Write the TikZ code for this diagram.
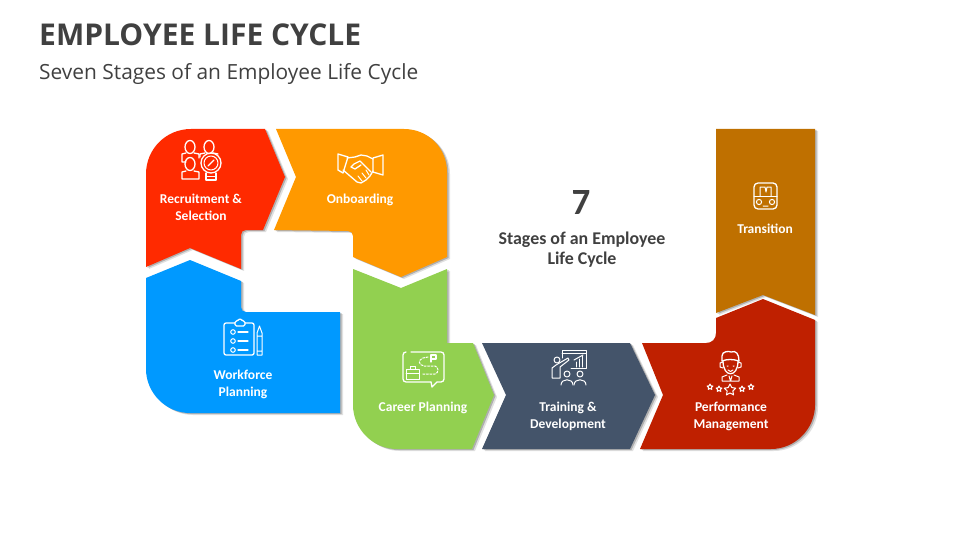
\documentclass[tikz,border=0pt]{standalone}
\usepackage{fontspec}
\setmainfont{Carlito}
\newfontfamily\headfont{Open Sans}
\usetikzlibrary{shadows}
\definecolor{inkgrey}{HTML}{404040}
\definecolor{stagered}{HTML}{FF2A00}
\definecolor{stageorange}{HTML}{FF9900}
\definecolor{stageblue}{HTML}{0099FF}
\definecolor{stagegreen}{HTML}{92D050}
\definecolor{stageslate}{HTML}{44546A}
\definecolor{stagebrick}{HTML}{BF2000}
\definecolor{stagebrown}{HTML}{BF7000}
\tikzset{
  stage/.style={fill=#1,
    drop shadow={shadow xshift=3pt,shadow yshift=-2pt,fill=black,opacity=.12},
    drop shadow={shadow xshift=1.5pt,shadow yshift=-1pt,fill=black,opacity=.22}},
  stagelabel/.style={text=white,font=\fontsize{13.5}{17}\selectfont\bfseries,align=center,inner sep=0pt},
  iconline/.style={draw=white,line width=1.3pt,line cap=round,line join=round},
  iconthin/.style={iconline,line width=1pt}
}
\newcommand{\iconstar}[3]{
  \draw[iconthin,shift={(#1,#2)}] (270:#3) -- (306:.5*#3) -- (342:#3) -- (18:.5*#3) -- (54:#3)
    -- (90:.5*#3) -- (126:#3) -- (162:.5*#3) -- (198:#3) -- (234:.5*#3) -- cycle;
}
\begin{document}
\begin{tikzpicture}[x=1pt,y=-1pt]
  \useasboundingbox (0,0) rectangle (960,540);
  % heading
  \node[anchor=base west,inner sep=0pt,text=inkgrey,font=\headfont\fontsize{30}{36}\selectfont\bfseries] (title) at (39,46) {EMPLOYEE LIFE CYCLE};
  \node[anchor=base west,inner sep=0pt,text=inkgrey,font=\headfont\fontsize{20.9}{24}\selectfont] (subtitle) at (39,80) {Seven Stages of an Employee Life Cycle};
  % the seven stages
  \path[stage=stagered] (146,267) -- (146,174) .. controls (146,149) and (166,129) .. (191,129) -- (265,129) -- (285,177) -- (263,230) -- (246,230)
    .. controls (243,230) and (241,232) .. (241,235) -- (241,269) -- (190,248) -- cycle;
  \path[stage=stageorange] (276,129) -- (404,129) .. controls (428,129) and (447,148) .. (447,172) -- (447,257) -- (401,277) -- (353,257) -- (353,236)
    .. controls (353,233) and (351,231) .. (348,231) -- (274,230) -- (296,177) -- cycle;
  \path[stage=stageblue] (146,278) -- (190,260) -- (241,281) -- (241,307) .. controls (241,310) and (243,312) .. (246,312) -- (340,312) -- (340,413) -- (190,413)
    .. controls (166,413) and (146,393) .. (146,369) -- cycle;
  \path[stage=stagegreen] (353,269) -- (401,288) -- (447,269) -- (447,343) -- (473,343) -- (494,395) -- (472,449) -- (397,449)
    .. controls (373,449) and (353,429) .. (353,405) -- cycle;
  \path[stage=stageslate] (482,343) -- (630,343) -- (655,395) -- (630,449) -- (482,449) -- (506,395) -- cycle;
  \path[stage=stagebrown] (716,129) -- (815,129) -- (815,315) -- (763,295) -- (716,313) -- cycle;
  \path[stage=stagebrick] (642,343) -- (706,343) .. controls (712,343) and (716,339) .. (716,333) -- (716,318) -- (763,299) -- (815,320) -- (815,405)
    .. controls (815,429) and (795,449) .. (771,449) -- (640,449) -- (663,395) -- cycle;
  % stage texts
  \node[stagelabel] (recruit) at (201,207) {Recruitment \&\\Selection};
  \node[stagelabel] (onboard) at (360,200) {Onboarding};
  \node[stagelabel] (workforce) at (243,384) {Workforce\\Planning};
  \node[stagelabel] (career) at (423,408) {Career Planning};
  \node[stagelabel] (training) at (568,416) {Training \&\\Development};
  \node[stagelabel] (perform) at (731,416) {Performance\\Management};
  \node[stagelabel] (transit) at (765,229) {Transition};
  % centre text
  \node[inner sep=0pt,text=inkgrey,font=\fontsize{37}{40}\selectfont\bfseries] (seven) at (581,203) {7};
  \node[inner sep=0pt,text=inkgrey,align=center,font=\fontsize{17.9}{20.5}\selectfont\bfseries] (caption) at (582,249.5) {Stages of an Employee\\Life Cycle};
  % recruitment icon
  \draw[iconline] (190,147) ellipse (5 and 6.5);
  \draw[iconline] (186,153) -- (182,154) -- (182,162) -- (186,162);
  \draw[iconline] (194,153) -- (199,154) -- (199,158);
  \draw[iconline] (190,164) ellipse (5 and 6.5);
  \draw[iconline] (186,171) -- (182,172) -- (182,179) -- (199,179) -- (199,172) -- (194,171);
  \draw[iconline] (209,147) ellipse (5 and 6.5);
  \draw[iconline] (205,153) -- (200,154) -- (200,157);
  \draw[iconline] (213,153) -- (218,154);
  \draw[iconline] (211,163) circle (10);
  \draw[iconthin] (211,163) circle (7);
  \draw[iconline] (208,166) -- (214,160);
  \draw[iconline] (206,173) -- (206,180) -- (216,180) -- (216,173) (206,176.5) -- (216,176.5);
  % handshake icon
  \draw[iconline] (338,154) -- (348,157) -- (343,173) -- (338,170) -- cycle;
  \draw[iconline] (383,155) -- (373,158) -- (373,172) -- (383,175) -- cycle;
  \draw[iconline] (347,158) -- (355,157) -- (361,155) -- (367,156) -- (373,159);
  \draw[iconline] (343,170) -- (350,176) -- (357,182) -- (361,183) -- (366,180) -- (370,176) -- (373,171);
  \draw[iconline] (371,172) -- (360,161) -- (354,164) -- (351,167) -- (355,169) -- (361,165);
  \draw[iconthin] (358,176) -- (362,181) (362,173) -- (366,178) (366,170) -- (369,175);
  % clipboard icon
  \draw[iconline,rounded corners=2pt] (235,323) -- (224,323) -- (224,355) -- (254,355) -- (254,323) -- (245,323);
  \draw[iconline,rounded corners=1.5pt] (235,326) -- (235,321) -- (238,321) -- (240,318) -- (242,321) -- (245,321) -- (245,326) -- cycle;
  \foreach \ypos in {332,341,350} {
    \draw[iconthin] (233,\ypos) circle (2.3);
    \draw[iconline] (238,\ypos) -- (248,\ypos);
  }
  \draw[iconthin] (257,333) -- (259.5,326) -- (262,333) -- (262,355) -- (257,355) -- cycle (257,336) -- (262,336) (257,351) -- (262,351);
  % career planning icon
  \draw[iconline,rounded corners=3pt] (411,352) -- (444,352) -- (444,382) -- (437,382);
  \draw[iconline] (437,382) -- (432,387) -- (431,382);
  \draw[iconline,rounded corners=3pt] (431,382) -- (403,382) -- (403,352) -- (406,352);
  \draw[iconthin] (406,369) rectangle (419,379) (406,373) -- (419,373);
  \draw[iconthin] (410,369) -- (410,366) -- (415,366) -- (415,369);
  \draw[iconline] (431,362) -- (431,355) -- (436,355) -- (436,359) -- (431,359);
  \draw[iconthin,dash pattern=on 2pt off 1.5pt] (428,357) -- (423,358) .. controls (418,360) and (418,365) .. (424,366) -- (435,366) .. controls (439,367) and (439,373) .. (435,374) -- (422,374);
  % training icon
  \draw[iconthin] (562,358) -- (562,350) -- (586,350) -- (586,368) -- (571,368);
  \draw[iconthin] (562,353) -- (586,353);
  \draw[iconthin] (576,367) -- (576,362) (579,367) -- (579,359) (582,367) -- (582,356);
  \draw[iconthin] (574,360) -- (583,355);
  \draw[iconthin] (557,360) circle (3);
  \draw[iconthin] (552,378) -- (552,368) -- (556,365) -- (568,358) -- (569,360) -- (560,367) -- (560,378) -- cycle;
  \draw[iconthin] (567,374) circle (3) (580,374) circle (3);
  \draw[iconthin] (561,385) .. controls (561,378) and (573,378) .. (573,385);
  \draw[iconthin] (574,385) .. controls (574,378) and (586,378) .. (586,385);
  % performance icon
  \draw[iconline] (722,361) -- (722,356) .. controls (722,351) and (729,351) .. (731,352) .. controls (736,350) and (739,354) .. (739,361);
  \draw[iconline] (722,361) .. controls (727,359) and (733,359) .. (739,361);
  \draw[iconline] (723,361) .. controls (723,378) and (738,378) .. (738,361);
  \draw[iconthin] (723,362) -- (720,363) -- (720,367) -- (723,368) (738,362) -- (741,363) -- (741,367) -- (738,368);
  \draw[iconthin] (727,366) -- (728,366) (733,366) -- (734,366) (728,370) .. controls (730,372) and (731,372) .. (733,370);
  \draw[iconthin] (727,375) -- (722,377) -- (722,381) -- (739,381) -- (739,377) -- (734,375) (729,376) -- (730.5,381) -- (732,376);
  \iconstar{710}{387}{3}
  \iconstar{719}{389}{3}
  \iconstar{730}{390}{6}
  \iconstar{742}{389}{3}
  \iconstar{751}{387}{3}
  % backpack icon
  \draw[iconline,rounded corners=4pt] (754,209) rectangle (777,183);
  \draw[iconthin] (754,196) -- (777,196);
  \draw[iconthin] (760,196) -- (760,187) -- (765,187) -- (766,192) -- (767,187) -- (771,187) -- (771,196);
  \draw[iconthin] (759,202) circle (2.6) (772,202) circle (2.6) (763,206) -- (768,206);
\end{tikzpicture}
\end{document}
